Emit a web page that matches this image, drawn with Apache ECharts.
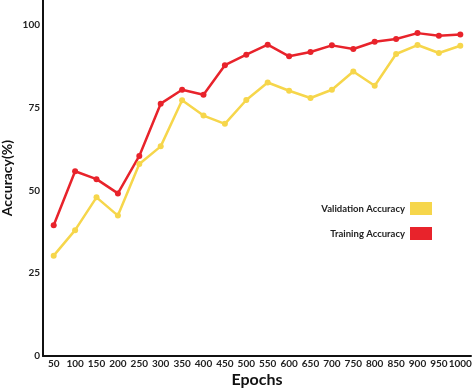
<!DOCTYPE html>
<html>
<head>
<meta charset="utf-8">
<script src="https://cdn.jsdelivr.net/npm/echarts@6/dist/echarts.min.js"></script>
<style>
html,body{margin:0;padding:0;background:#fff;}
#c{width:474px;height:389px;}
</style>
</head>
<body>
<div id="c"></div>
<script>
const epochs = ['50','100','150','200','250','300','350','400','450','500','550','600','650','700','750','800','850','900','950','1000'];
const validationAcc = [30.3,38.0,47.9,42.4,58.0,63.3,77.2,72.6,70.1,77.3,82.6,80.1,77.9,80.4,85.9,81.6,91.2,93.9,91.5,93.7];
const trainingAcc = [39.5,55.8,53.4,49.1,60.4,76.2,80.4,78.9,87.8,91.0,94.0,90.5,91.8,93.8,92.7,94.9,95.7,97.5,96.7,97.1];
const yTicks = [0,25,50,75,100];

const RED = '#e8232b';
const YEL = '#f6d64b';
const FONT = 'Lato';

const chart = echarts.init(document.getElementById('c'));
chart.setOption({
  animation: false,
  backgroundColor: '#fff',
  grid: {left: 43, right: 3, top: 0, bottom: 33, containLabel: false, outerBoundsMode: 'none'},
  legend: {
    orient: 'vertical',
    right: 37,
    top: 197,
    align: 'right',
    itemWidth: 22,
    itemHeight: 13,
    itemGap: 12,
    icon: 'rect',
    textStyle: {fontFamily: FONT, fontWeight: 'bold', fontSize: 9.5, color: '#222'},
    data: [
      {name: 'Validation Accuracy', itemStyle: {color: YEL}},
      {name: 'Training Accuracy', itemStyle: {color: RED}}
    ]
  },
  xAxis: {
    type: 'category',
    data: epochs,
    boundaryGap: true,
    name: 'Epochs',
    nameLocation: 'middle',
    nameMoveOverlap: false,
    nameGap: 16,
    nameTextStyle: {fontFamily: FONT, fontWeight: 'bold', fontSize: 16, color: '#111'},
    axisLine: {lineStyle: {color: '#111', width: 2}},
    axisTick: {show: false},
    axisLabel: {interval: 0, hideOverlap: false, margin: 3, fontFamily: FONT, fontWeight: 'bold', fontSize: 10, color: '#222'}
  },
  yAxis: {
    type: 'value',
    min: 0,
    max: 107.5,
    interval: 25,
    name: 'Accuracy(%)',
    nameLocation: 'middle',
    nameMoveOverlap: false,
    nameGap: 29,
    nameTextStyle: {fontFamily: FONT, fontWeight: 'bold', fontSize: 14, color: '#111'},
    splitLine: {show: false},
    axisLine: {show: true, lineStyle: {color: '#111', width: 2}},
    axisTick: {show: false},
    axisLabel: {
      showMaxLabel: false,
      margin: 3,
      fontFamily: FONT, fontWeight: 'bold', fontSize: 10, color: '#222',
      formatter: function (v) { return yTicks.indexOf(v) >= 0 ? String(v) : ''; }
    }
  },
  series: [
    {
      name: 'Validation Accuracy',
      type: 'line',
      data: validationAcc,
      symbol: 'circle',
      symbolSize: 6,
      lineStyle: {color: YEL, width: 2.5},
      itemStyle: {color: YEL}
    },
    {
      name: 'Training Accuracy',
      type: 'line',
      data: trainingAcc,
      symbol: 'circle',
      symbolSize: 6,
      lineStyle: {color: RED, width: 2.5},
      itemStyle: {color: RED}
    }
  ]
});
</script>
</body>
</html>
